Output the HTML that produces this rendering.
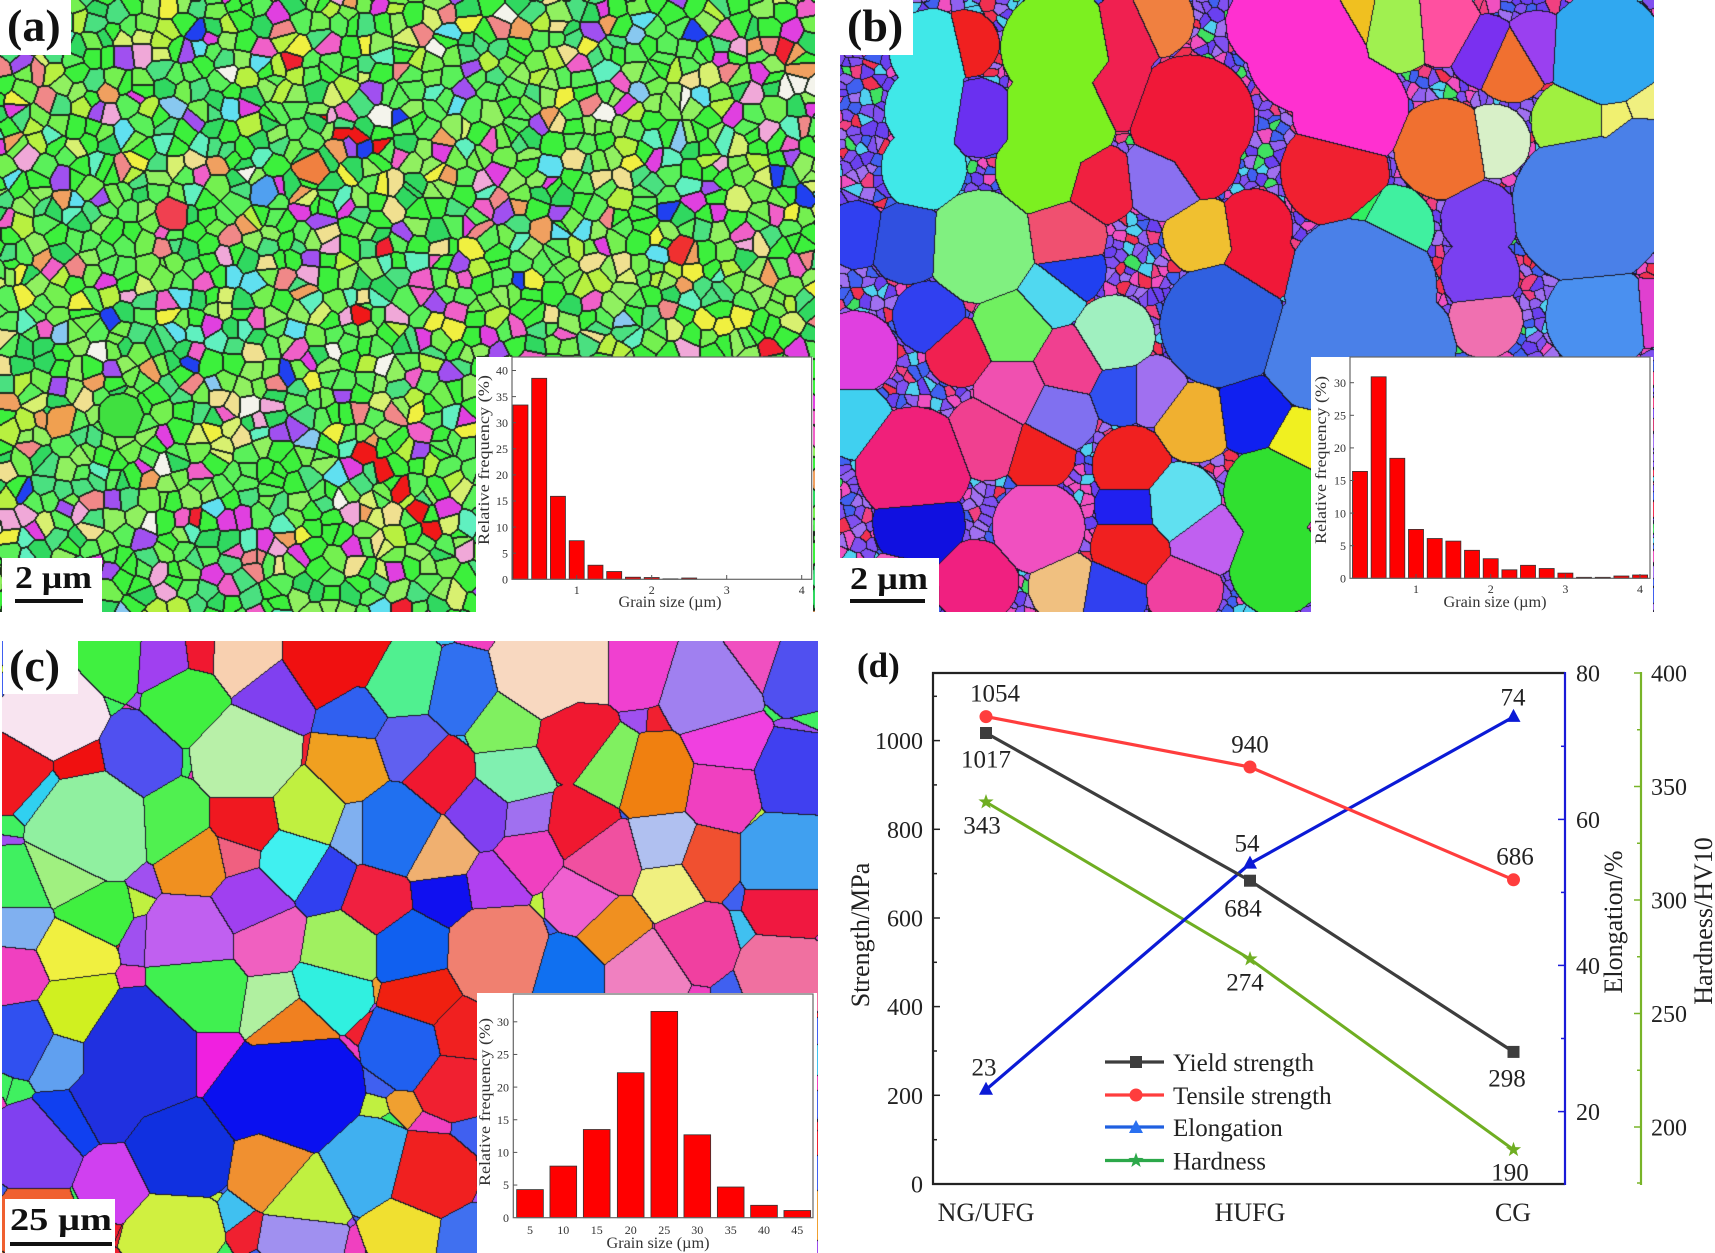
<!DOCTYPE html>
<html><head><meta charset="utf-8">
<style>
html,body{margin:0;padding:0;background:#fff;}
#root{position:relative;width:1715px;height:1253px;overflow:hidden;background:#fff;}
canvas{position:absolute;display:block;}
svg{position:absolute;left:0;top:0;}
</style></head>
<body><div id="root">
<canvas id="ca" width="815" height="612" style="left:0;top:0;background:#6ad860"></canvas>
<canvas id="cb" width="814" height="612" style="left:840px;top:0;background:#8a60e8"></canvas>
<canvas id="cc" width="816" height="612" style="left:2px;top:641px;background:#a070d0"></canvas>

<svg width="1715" height="1253" viewBox="0 0 1715 1253" font-family="'Liberation Serif', serif">
<defs>
<path id="star" d="M0,-8 L1.88,-2.59 L7.61,-2.47 L3.04,0.99 L4.7,6.47 L0,3.2 L-4.7,6.47 L-3.04,0.99 L-7.61,-2.47 L-1.88,-2.59 Z"/>
<path id="tri" d="M0,-8 L7,5 L-7,5 Z"/>
</defs>

<!-- panel labels -->
<rect x="0" y="0" width="71" height="55" fill="#fff"/>
<text x="7" y="41" font-size="46" font-weight="bold" fill="#111">(a)</text>
<rect x="840" y="0" width="73" height="55" fill="#fff"/>
<text x="847" y="41" font-size="46" font-weight="bold" fill="#111">(b)</text>
<rect x="3" y="641" width="75" height="53" fill="#fff"/>
<text x="9" y="681" font-size="46" font-weight="bold" fill="#111">(c)</text>

<!-- scale bars -->
<rect x="2" y="558" width="100" height="54" fill="#fff"/>
<text x="15" y="588" font-size="32" font-weight="bold" fill="#111" textLength="77" lengthAdjust="spacingAndGlyphs">2 µm</text>
<rect x="15" y="599" width="68" height="4" fill="#111"/>
<rect x="840" y="558" width="99" height="54" fill="#fff"/>
<text x="850" y="589" font-size="32" font-weight="bold" fill="#111" textLength="78" lengthAdjust="spacingAndGlyphs">2 µm</text>
<rect x="850" y="599" width="75" height="4" fill="#111"/>
<rect x="5" y="1199" width="110" height="54" fill="#fff"/>
<text x="10" y="1230" font-size="32" font-weight="bold" fill="#111" textLength="102" lengthAdjust="spacingAndGlyphs">25 µm</text>
<rect x="10" y="1242" width="102" height="4" fill="#111"/>

<!-- inset (a) -->
<g>
<rect x="476" y="357" width="337" height="255" fill="#fff"/>
<g fill="#ff0000" stroke="#333" stroke-width="0.8">
<rect x="512.95" y="405" width="15" height="174.3"/>
<rect x="531.7" y="378.3" width="15" height="201"/>
<rect x="550.45" y="496.3" width="15" height="83"/>
<rect x="569.2" y="540.7" width="15" height="38.6"/>
<rect x="587.95" y="565.2" width="15" height="14.1"/>
<rect x="606.7" y="571.5" width="15" height="7.8"/>
<rect x="625.45" y="577.2" width="15" height="2.1"/>
<rect x="644.2" y="577.5" width="15" height="1.8"/>
<rect x="662.95" y="578.8" width="15" height="0.5"/>
<rect x="681.7" y="578" width="15" height="1.3"/>
</g>
<rect x="512" y="357" width="299.7" height="222.3" fill="none" stroke="#666" stroke-width="1.2"/>
<g stroke="#555" stroke-width="1">
<line x1="512" y1="553.2" x2="516" y2="553.2"/><line x1="512" y1="527.1" x2="516" y2="527.1"/><line x1="512" y1="501" x2="516" y2="501"/><line x1="512" y1="474.9" x2="516" y2="474.9"/><line x1="512" y1="448.8" x2="516" y2="448.8"/><line x1="512" y1="422.7" x2="516" y2="422.7"/><line x1="512" y1="396.6" x2="516" y2="396.6"/><line x1="512" y1="370.5" x2="516" y2="370.5"/>
<line x1="576.7" y1="579.3" x2="576.7" y2="575"/><line x1="651.7" y1="579.3" x2="651.7" y2="575"/><line x1="726.7" y1="579.3" x2="726.7" y2="575"/><line x1="801.7" y1="579.3" x2="801.7" y2="575"/>
</g>
<g font-size="12" fill="#333" text-anchor="end">
<text x="508" y="583.5">0</text><text x="508" y="557.4">5</text><text x="508" y="531.3">10</text><text x="508" y="505.2">15</text><text x="508" y="479.1">20</text><text x="508" y="453">25</text><text x="508" y="426.9">30</text><text x="508" y="400.8">35</text><text x="508" y="374.7">40</text>
</g>
<g font-size="12" fill="#333" text-anchor="middle">
<text x="576.7" y="594">1</text><text x="651.7" y="594">2</text><text x="726.7" y="594">3</text><text x="801.7" y="594">4</text>
</g>
<text x="670" y="607" font-size="16" fill="#333" text-anchor="middle" textLength="103" lengthAdjust="spacingAndGlyphs">Grain size (µm)</text>
<text transform="translate(489,460) rotate(-90)" font-size="16" fill="#333" text-anchor="middle" textLength="170" lengthAdjust="spacingAndGlyphs">Relative frequency (%)</text>
</g>

<!-- inset (b) -->
<g>
<rect x="1311" y="357" width="342" height="255" fill="#fff"/>
<g fill="#ff0000" stroke="#333" stroke-width="0.8">
<rect x="1352.5" y="471.4" width="15" height="106.9"/>
<rect x="1371.15" y="376.8" width="15" height="201.5"/>
<rect x="1389.8" y="458.3" width="15" height="120"/>
<rect x="1408.5" y="529.4" width="15" height="48.9"/>
<rect x="1427.2" y="538.5" width="15" height="39.8"/>
<rect x="1445.85" y="541.1" width="15" height="37.2"/>
<rect x="1464.5" y="550.3" width="15" height="28"/>
<rect x="1483.2" y="558.7" width="15" height="19.6"/>
<rect x="1501.9" y="569.8" width="15" height="8.5"/>
<rect x="1520.5" y="565.3" width="15" height="13"/>
<rect x="1539.2" y="568.5" width="15" height="9.8"/>
<rect x="1557.9" y="573.1" width="15" height="5.2"/>
<rect x="1576.5" y="577.3" width="15" height="1"/>
<rect x="1595.25" y="577.3" width="15" height="1"/>
<rect x="1613.9" y="576" width="15" height="2.3"/>
<rect x="1632.6" y="575" width="15" height="3.3"/>
</g>
<rect x="1350" y="357" width="300" height="221.3" fill="none" stroke="#666" stroke-width="1.2"/>
<g stroke="#555" stroke-width="1">
<line x1="1350" y1="545.7" x2="1354" y2="545.7"/><line x1="1350" y1="513.1" x2="1354" y2="513.1"/><line x1="1350" y1="480.5" x2="1354" y2="480.5"/><line x1="1350" y1="447.9" x2="1354" y2="447.9"/><line x1="1350" y1="415.3" x2="1354" y2="415.3"/><line x1="1350" y1="382.7" x2="1354" y2="382.7"/>
<line x1="1416" y1="578.3" x2="1416" y2="574"/><line x1="1490.7" y1="578.3" x2="1490.7" y2="574"/><line x1="1565.4" y1="578.3" x2="1565.4" y2="574"/><line x1="1640" y1="578.3" x2="1640" y2="574"/>
</g>
<g font-size="12" fill="#333" text-anchor="end">
<text x="1346" y="582.5">0</text><text x="1346" y="549.9">5</text><text x="1346" y="517.3">10</text><text x="1346" y="484.7">15</text><text x="1346" y="452.1">20</text><text x="1346" y="419.5">25</text><text x="1346" y="386.9">30</text>
</g>
<g font-size="12" fill="#333" text-anchor="middle">
<text x="1416" y="593">1</text><text x="1490.7" y="593">2</text><text x="1565.4" y="593">3</text><text x="1640" y="593">4</text>
</g>
<text x="1495" y="607" font-size="16" fill="#333" text-anchor="middle" textLength="103" lengthAdjust="spacingAndGlyphs">Grain size (µm)</text>
<text transform="translate(1326,460) rotate(-90)" font-size="16" fill="#333" text-anchor="middle" textLength="168" lengthAdjust="spacingAndGlyphs">Relative frequency (%)</text>
</g>

<!-- inset (c) -->
<g>
<rect x="477" y="993" width="340" height="260" fill="#fff"/>
<g fill="#ff0000" stroke="#333" stroke-width="0.8">
<rect x="516.65" y="1189.6" width="26.7" height="28.1"/>
<rect x="549.95" y="1166.1" width="26.7" height="51.6"/>
<rect x="583.35" y="1129.5" width="26.7" height="88.2"/>
<rect x="617.35" y="1072.7" width="26.7" height="145"/>
<rect x="650.95" y="1011.4" width="26.7" height="206.3"/>
<rect x="683.95" y="1134.8" width="26.7" height="82.9"/>
<rect x="717.35" y="1187" width="26.7" height="30.7"/>
<rect x="750.65" y="1205.3" width="26.7" height="12.4"/>
<rect x="783.95" y="1210.5" width="26.7" height="7.2"/>
</g>
<rect x="513.3" y="994" width="299.7" height="223.7" fill="none" stroke="#666" stroke-width="1.2"/>
<g stroke="#555" stroke-width="1">
<line x1="513.3" y1="1185.05" x2="517.3" y2="1185.05"/><line x1="513.3" y1="1152.4" x2="517.3" y2="1152.4"/><line x1="513.3" y1="1119.75" x2="517.3" y2="1119.75"/><line x1="513.3" y1="1087.1" x2="517.3" y2="1087.1"/><line x1="513.3" y1="1054.45" x2="517.3" y2="1054.45"/><line x1="513.3" y1="1021.8" x2="517.3" y2="1021.8"/>
</g>
<g font-size="12" fill="#333" text-anchor="end">
<text x="509" y="1221.9">0</text><text x="509" y="1189.2">5</text><text x="509" y="1156.6">10</text><text x="509" y="1123.9">15</text><text x="509" y="1091.3">20</text><text x="509" y="1058.6">25</text><text x="509" y="1026">30</text>
</g>
<g font-size="12" fill="#333" text-anchor="middle">
<text x="530" y="1234">5</text><text x="563.3" y="1234">10</text><text x="596.7" y="1234">15</text><text x="630.7" y="1234">20</text><text x="664.3" y="1234">25</text><text x="697.3" y="1234">30</text><text x="730.7" y="1234">35</text><text x="764" y="1234">40</text><text x="797.3" y="1234">45</text>
</g>
<text x="658" y="1248" font-size="16" fill="#333" text-anchor="middle" textLength="103" lengthAdjust="spacingAndGlyphs">Grain size (µm)</text>
<text transform="translate(490,1102) rotate(-90)" font-size="16" fill="#333" text-anchor="middle" textLength="168" lengthAdjust="spacingAndGlyphs">Relative frequency (%)</text>
</g>

<!-- chart (d) -->
<g>
<text x="857" y="677" font-size="35" font-weight="bold" fill="#111">(d)</text>
<g stroke="#222" stroke-width="2.2" fill="none">
<line x1="932" y1="673" x2="1565" y2="673"/>
<line x1="933" y1="672" x2="933" y2="1185"/>
<line x1="932" y1="1184" x2="1565" y2="1184"/>
</g>
<line x1="1565" y1="672" x2="1565" y2="1185" stroke="#1a1ad8" stroke-width="2.2"/>
<line x1="1641" y1="672" x2="1641" y2="1185" stroke="#78b428" stroke-width="2.2"/>
<g stroke="#222" stroke-width="1.5">
<line x1="933" y1="1095.3" x2="940" y2="1095.3"/><line x1="933" y1="1006.6" x2="940" y2="1006.6"/><line x1="933" y1="918" x2="940" y2="918"/><line x1="933" y1="829.3" x2="940" y2="829.3"/><line x1="933" y1="740.6" x2="940" y2="740.6"/>
<line x1="933" y1="1139.7" x2="937" y2="1139.7"/><line x1="933" y1="1051" x2="937" y2="1051"/><line x1="933" y1="962.3" x2="937" y2="962.3"/><line x1="933" y1="873.6" x2="937" y2="873.6"/><line x1="933" y1="784.9" x2="937" y2="784.9"/><line x1="933" y1="696.3" x2="937" y2="696.3"/>
</g>
<g stroke="#1a1ad8" stroke-width="1.5">
<line x1="1565" y1="819.4" x2="1558" y2="819.4"/><line x1="1565" y1="965.4" x2="1558" y2="965.4"/><line x1="1565" y1="1111.6" x2="1558" y2="1111.6"/>
<line x1="1565" y1="746.3" x2="1561" y2="746.3"/><line x1="1565" y1="892.4" x2="1561" y2="892.4"/><line x1="1565" y1="1038.5" x2="1561" y2="1038.5"/>
</g>
<g stroke="#78b428" stroke-width="1.5">
<line x1="1641" y1="673" x2="1634" y2="673"/><line x1="1641" y1="786.5" x2="1634" y2="786.5"/><line x1="1641" y1="900" x2="1634" y2="900"/><line x1="1641" y1="1013.5" x2="1634" y2="1013.5"/><line x1="1641" y1="1127" x2="1634" y2="1127"/>
<line x1="1641" y1="729.75" x2="1637" y2="729.75"/><line x1="1641" y1="843.25" x2="1637" y2="843.25"/><line x1="1641" y1="956.75" x2="1637" y2="956.75"/><line x1="1641" y1="1070.25" x2="1637" y2="1070.25"/><line x1="1641" y1="1183" x2="1637" y2="1183"/>
</g>
<g font-size="24" fill="#222" text-anchor="end">
<text x="923" y="1192.5">0</text><text x="923" y="1103.8">200</text><text x="923" y="1015.1">400</text><text x="923" y="926.5">600</text><text x="923" y="837.8">800</text><text x="923" y="749.1">1000</text>
</g>
<g font-size="24" fill="#222">
<text x="1576" y="681.5">80</text><text x="1576" y="827.9">60</text><text x="1576" y="973.9">40</text><text x="1576" y="1120.1">20</text>
<text x="1651" y="681.5">400</text><text x="1651" y="795">350</text><text x="1651" y="908.5">300</text><text x="1651" y="1022">250</text><text x="1651" y="1135.5">200</text>
</g>
<text transform="translate(869,935) rotate(-90)" font-size="26" fill="#222" text-anchor="middle">Strength/MPa</text>
<text transform="translate(1622,922) rotate(-90)" font-size="26" fill="#222" text-anchor="middle">Elongation/%</text>
<text transform="translate(1712,921) rotate(-90)" font-size="26" fill="#222" text-anchor="middle">Hardness/HV10</text>
<g font-size="26" fill="#222" text-anchor="middle">
<text x="986" y="1221">NG/UFG</text><text x="1250" y="1221">HUFG</text><text x="1513" y="1221">CG</text>
</g>

<!-- series -->
<polyline points="986,802 1250,959 1513.5,1149.7" fill="none" stroke="#6fae22" stroke-width="3"/>
<polyline points="986,1089.7 1250,863.6 1513.5,716.9" fill="none" stroke="#0b1ad6" stroke-width="3.2"/>
<polyline points="986,733 1250,880.7 1513.5,1051.9" fill="none" stroke="#3d3d3d" stroke-width="3.2"/>
<polyline points="986,716.6 1250,767 1513.5,879.8" fill="none" stroke="#ff3d3d" stroke-width="3.2"/>
<g fill="#6fae22"><use href="#star" x="986" y="802"/><use href="#star" x="1250" y="959"/><use href="#star" x="1513.5" y="1149.7"/></g>
<g fill="#0b1ad6"><use href="#tri" x="986" y="1089.7"/><use href="#tri" x="1250" y="863.6"/><use href="#tri" x="1513.5" y="716.9"/></g>
<g fill="#3d3d3d"><rect x="980" y="727" width="12" height="12"/><rect x="1244" y="874.7" width="12" height="12"/><rect x="1507.5" y="1045.9" width="12" height="12"/></g>
<g fill="#ff3d3d"><circle cx="986" cy="716.6" r="6.5"/><circle cx="1250" cy="767" r="6.5"/><circle cx="1513.5" cy="879.8" r="6.5"/></g>

<g font-size="25" fill="#222" text-anchor="middle">
<text x="995" y="701.5">1054</text><text x="986" y="767.5">1017</text><text x="982" y="833.5">343</text><text x="984" y="1075.5">23</text>
<text x="1250" y="752.5">940</text><text x="1247" y="851.5">54</text><text x="1243" y="916.5">684</text><text x="1245" y="990.5">274</text>
<text x="1513" y="705.5">74</text><text x="1515" y="864.5">686</text><text x="1507" y="1086.5">298</text><text x="1510" y="1180.5">190</text>
</g>

<!-- legend -->
<line x1="1105" y1="1062" x2="1164" y2="1062" stroke="#3d3d3d" stroke-width="3.2"/>
<rect x="1130" y="1056" width="12" height="12" fill="#3d3d3d"/>
<line x1="1105" y1="1095" x2="1164" y2="1095" stroke="#ff3d3d" stroke-width="3.2"/>
<circle cx="1136" cy="1095" r="6.5" fill="#ff3d3d"/>
<line x1="1105" y1="1127" x2="1164" y2="1127" stroke="#1f5fe0" stroke-width="3.2"/>
<use href="#tri" x="1136" y="1128" fill="#2a70f0"/>
<line x1="1105" y1="1160.5" x2="1164" y2="1160.5" stroke="#2ca84a" stroke-width="3.2"/>
<use href="#star" x="1136" y="1160.5" fill="#2ca84a"/>
<g font-size="25" fill="#222">
<text x="1173" y="1071">Yield strength</text>
<text x="1173" y="1104">Tensile strength</text>
<text x="1173" y="1136">Elongation</text>
<text x="1173" y="1169.5">Hardness</text>
</g>
</g>
</svg>
</div>

<script>
function rng(s){s=s>>>0;return function(){s=(Math.imul(s,1664525)+1013904223)>>>0;return s/4294967296;};}
function hx(c){return [parseInt(c.slice(1,3),16),parseInt(c.slice(3,5),16),parseInt(c.slice(5,7),16)];}
function grains(id,o){
  var cv=document.getElementById(id);if(!cv||!cv.getContext)return;
  var W=cv.width,H=cv.height,ctx=cv.getContext('2d');
  var img=ctx.createImageData(W,H),d=img.data,R=rng(o.seed);
  var cols=[],cmap={};
  function ci(c){if(cmap[c]===undefined){cmap[c]=cols.length;cols.push(hx(c));}return cmap[c];}
  var big=o.big||[],nb=big.length,bx=new Float32Array(nb),by=new Float32Array(nb),br=new Float32Array(nb),bc=new Int32Array(nb),i,j,k;
  var add=o.add||0;
  for(i=0;i<nb;i++){bx[i]=big[i][0]*o.sx+o.ox;by[i]=big[i][1]*o.sy+o.oy;br[i]=big[i][2]*big[i][2]+add;bc[i]=ci(big[i][3]);}
  var g=o.g,gw=Math.ceil(W/g)+2,gh=Math.ceil(H/g)+2,n=gw*gh;
  var fx=new Float32Array(n),fy=new Float32Array(n),fr=new Float32Array(n),fc=new Int32Array(n);
  var pal=o.pal,tot=0;for(i=0;i<pal.length;i++)tot+=pal[i][1];
  for(j=0;j<gh;j++)for(i=0;i<gw;i++){k=j*gw+i;fx[k]=(i-1+R())*g;fy[k]=(j-1+R())*g;var rr=R()*o.rv;fr[k]=rr*rr;
    var t=R()*tot,q=0;while(q<pal.length-1&&t>pal[q][1]){t-=pal[q][1];q++;}fc[k]=ci(pal[q][0]);}
  var gid=new Int32Array(W*H),gc=new Int32Array(W*H);
  for(var y=0;y<H;y++){var cy=Math.floor(y/g)+1;
    for(var x=0;x<W;x++){var best=1e12,id=0,c=0,dx,dy,v;
      for(i=0;i<nb;i++){dx=x-bx[i];dy=y-by[i];v=dx*dx+dy*dy-br[i];if(v<best){best=v;id=-1-bc[i];c=bc[i];}}
      var cx=Math.floor(x/g)+1;
      for(var jj=cy-2;jj<=cy+2;jj++){if(jj<0||jj>=gh)continue;
        for(var ii=cx-2;ii<=cx+2;ii++){if(ii<0||ii>=gw)continue;k=jj*gw+ii;dx=x-fx[k];dy=y-fy[k];v=dx*dx+dy*dy-fr[k];if(v<best){best=v;id=k;c=fc[k];}}}
      var p=y*W+x;gid[p]=id;gc[p]=c;}}
  var lc=o.lc,thick=o.thick;
  for(var p=0;p<W*H;p++){var x2=p%W,line=(x2>0&&gid[p]!==gid[p-1])||(p>=W&&gid[p]!==gid[p-W]);
    if(!line&&thick){line=(x2<W-1&&gid[p]!==gid[p+1])||(p<W*H-W&&gid[p]!==gid[p+W]);}
    var cc=line?lc:cols[gc[p]];d[4*p]=cc[0];d[4*p+1]=cc[1];d[4*p+2]=cc[2];d[4*p+3]=255;}
  ctx.putImageData(img,0,0);
}
try{
grains('ca',{seed:12345,g:17,rv:6,sx:1,sy:1,ox:0,oy:0,lc:[30,44,30],thick:true,
 pal:[['#3cf03c',20],['#5af05a',16],['#74f050',12],['#4ae080',8],['#90f060',8],['#30d860',8],['#b8f040',5],['#d8f070',3],['#f0f040',2],['#f0e090',2],['#f0a060',2],['#f08888',2],['#f060c8',4],['#e040e0',3],['#f0a8d8',2],['#a050f0',2],['#60e0f0',2],['#88c8f0',1],['#60f0c0',3],['#f02030',1],['#2040f0',1],['#f4f4ec',1]],
 big:[[365,450,9,'#f01818'],[383,470,9,'#f01818'],[400,490,9,'#f01818'],[418,510,9,'#f01818'],[430,530,8,'#f01818'],
 [320,118,5,'#f01818'],[340,127,5,'#f01818'],[360,137,5,'#f01818'],[380,146,5,'#f01818'],
 [312,168,14,'#f08040'],[265,190,12,'#50a0f0'],[172,215,15,'#f04050'],[120,415,22,'#40e040'],[60,420,14,'#f0a050'],[360,315,10,'#f01818'],[680,250,10,'#f03030']]});
}catch(e){}
try{
grains('cb',{seed:777,g:11,rv:2,sx:815/1568,sy:612/1568,ox:0,oy:0,lc:[25,25,40],add:900,
 pal:[['#8050f0',4],['#6a40f0',3],['#f050c0',3],['#4060f0',3],['#a070f0',3],['#f04080',2],['#50d0f0',2],['#f03050',2],['#9060f0',2],['#40e060',1]],
 big:[[420,120,50,'#7cf020'],[420,300,50,'#7cf020'],[390,430,38,'#7cf020'],
[175,130,30,'#40e8e8'],[170,280,33,'#40e8e8'],[160,430,30,'#40e8e8'],
[545,90,27,'#f02050'],[530,230,28,'#f02050'],
[675,300,55,'#f01838'],[680,400,35,'#f01838'],
[830,60,35,'#ff30d0'],[900,130,55,'#ff30d0'],[980,280,50,'#ff30d0'],
[1070,80,28,'#a0f050'],[1160,70,25,'#ff50a0'],[990,60,15,'#f0c020'],[610,50,20,'#f08040'],
[1240,130,22,'#7a30f0'],[1290,160,25,'#f07030'],[1340,120,22,'#9a40f0'],
[1470,130,52,'#30a8f0'],[1410,310,30,'#a0f040'],[1490,310,18,'#f0f070'],[1545,280,14,'#f0f080'],
[1160,380,40,'#f07030'],[1255,360,22,'#d8f0c8'],
[950,440,45,'#f02030'],[1060,580,30,'#40f0a0'],[1020,550,14,'#30f060'],
[1000,740,70,'#4a80e8'],[920,900,50,'#4a80e8'],[1080,880,45,'#4a80e8'],
[1440,530,72,'#4a80e8'],[1540,400,40,'#4a80e8'],
[1230,560,25,'#7a40f0'],[1230,700,25,'#7a40f0'],[1240,820,22,'#f070b0'],
[1460,810,45,'#4a90f0'],[1545,800,18,'#e040d0'],
[735,830,55,'#3060e0'],[795,580,24,'#f01838'],[805,680,24,'#f01838'],[695,600,25,'#f0c030'],
[625,450,33,'#8a70f0'],[270,630,48,'#80f080'],[130,620,28,'#3050e0'],[430,600,30,'#f05070'],[495,470,28,'#f02040'],
[440,690,20,'#2040f0'],[405,750,20,'#50d8f0'],[525,860,28,'#a0f0c0'],[330,840,28,'#70f060'],
[790,1060,27,'#1020f0'],[680,1080,27,'#f0b030'],[880,1130,18,'#f0f020'],
[830,1260,38,'#30e030'],[840,1450,38,'#30e030'],
[140,1190,50,'#f0207a'],[150,1340,35,'#1010e0'],[30,1080,22,'#40d0f0'],[280,1120,30,'#f04090'],[330,1000,25,'#f050b0'],
[420,1060,25,'#8070f0'],[380,1160,22,'#f02020'],[560,1190,26,'#f02020'],[560,1300,22,'#2020f0'],[560,1400,28,'#f02020'],
[650,1290,30,'#60e0f0'],[380,1350,35,'#f050c0'],[700,1380,25,'#c060f0'],
[120,1500,25,'#f060c0'],[260,1490,30,'#f02080'],[430,1500,20,'#f0c080'],[520,1520,22,'#3040f0'],[660,1510,25,'#f040a0'],
[240,110,15,'#f02020'],[265,300,25,'#6a30f0'],[30,600,15,'#3040f0'],[30,900,28,'#e040e0'],[170,810,20,'#3040f0'],[230,900,18,'#f02050'],
[440,930,25,'#f04090'],[540,1000,18,'#3050f0'],[600,1000,20,'#a070f0']]});
}catch(e){}
try{
grains('cc',{seed:4242,g:40,rv:4,sx:818/1568,sy:612/1568,ox:-2,oy:0,lc:[25,25,40],add:1100,
 pal:[['#f02030',3],['#4060f0',3],['#40f060',2],['#f040c0',2],['#a050f0',2],['#40c0f0',2],['#f0a030',1],['#c0f040',1]],
 big:[[100,190,42,'#f8e4f0'],[215,40,20,'#40f040'],[320,50,22,'#a040f0'],[380,40,15,'#f01830'],[465,45,30,'#f8d0b0'],
[620,50,35,'#f01010'],[690,40,20,'#f01010'],[770,100,30,'#50f090'],[880,130,25,'#3070f0'],
[1040,80,40,'#f8d8c0'],[1110,60,30,'#f8d8c0'],[1215,60,28,'#f040d0'],[1360,120,40,'#a080f0'],[1440,40,18,'#f050c0'],[1530,80,25,'#5050f0'],
[360,150,32,'#40f040'],[520,140,30,'#8040f0'],[470,290,45,'#b8f0a8'],[40,330,28,'#f01820'],[260,300,30,'#5050f0'],[150,330,22,'#f01010'],
[670,320,30,'#f0a020'],[680,190,20,'#3060f0'],[780,270,25,'#6060f0'],[840,350,28,'#f01830'],[970,220,25,'#80f060'],[980,340,28,'#80f0b0'],
[1100,250,30,'#f01830'],[1255,350,32,'#f08010'],[1390,260,28,'#f040e0'],[1380,380,28,'#f040c0'],[1170,320,25,'#80f060'],[1520,340,30,'#4040f0'],
[90,390,20,'#30d0f0'],[170,470,55,'#90f0a0'],[130,580,35,'#a0f080'],[330,460,28,'#50f050'],[470,460,28,'#f01820'],[590,430,30,'#c0f040'],
[560,560,28,'#40f0f0'],[760,480,40,'#2070f0'],[690,480,20,'#80b0f0'],[840,540,30,'#f0b070'],[920,440,28,'#8040f0'],[1010,540,22,'#f040c0'],
[1000,450,20,'#a070f0'],[1110,470,25,'#f01830'],[1160,560,30,'#f050a0'],[1270,520,25,'#b0c0f0'],[1280,620,22,'#f0f080'],[1350,560,22,'#f05030'],
[1510,560,40,'#40a0f0'],[40,630,25,'#40f060'],[170,680,25,'#40f040'],[380,560,25,'#f09020'],[450,540,18,'#f06080'],[480,670,30,'#a040f0'],
[620,610,20,'#3040f0'],[720,660,25,'#f02040'],[850,640,22,'#1010f0'],[1120,660,25,'#f060d0'],[1510,660,30,'#f01840'],[940,620,20,'#b040f0'],
[40,720,22,'#80b0f0'],[130,790,25,'#f0f040'],[370,760,35,'#c060f0'],[510,760,28,'#f060c0'],[650,790,30,'#a0f060'],[790,790,30,'#1060f0'],
[950,800,45,'#f08070'],[1080,850,25,'#1070f0'],[1240,850,30,'#f080c0'],[1500,850,30,'#f070a0'],[1170,730,22,'#f09020'],[1330,770,25,'#f040a0'],
[630,890,28,'#30f0e0'],[810,910,28,'#f02010'],[380,900,40,'#40f050'],[30,850,22,'#f040c0'],[145,950,32,'#d0f020'],
[270,1060,60,'#2030e0'],[210,1170,35,'#2030e0'],[380,1060,25,'#f020e0'],[525,930,22,'#b0f0a0'],[570,1150,55,'#0a10f0'],[480,1160,35,'#0a10f0'],
[560,990,28,'#f08020'],[780,1030,30,'#2060f0'],[880,1000,25,'#f02020'],[50,1010,28,'#3050f0'],[120,1060,25,'#60a0f0'],[870,1120,22,'#f02030'],
[340,1300,45,'#1030e0'],[70,1300,35,'#8040f0'],[220,1380,25,'#d040f0'],[130,1230,22,'#1040f0'],[520,1340,28,'#f09030'],[590,1420,28,'#c0f040'],
[700,1340,35,'#40b0f0'],[820,1380,35,'#f02020'],[330,1510,35,'#d0f040'],[780,1510,30,'#f0e030'],[580,1530,25,'#a090f0'],[880,1530,20,'#4070f0'],[70,1470,22,'#f06030']]});
}catch(e){}
</script>
</body></html>
